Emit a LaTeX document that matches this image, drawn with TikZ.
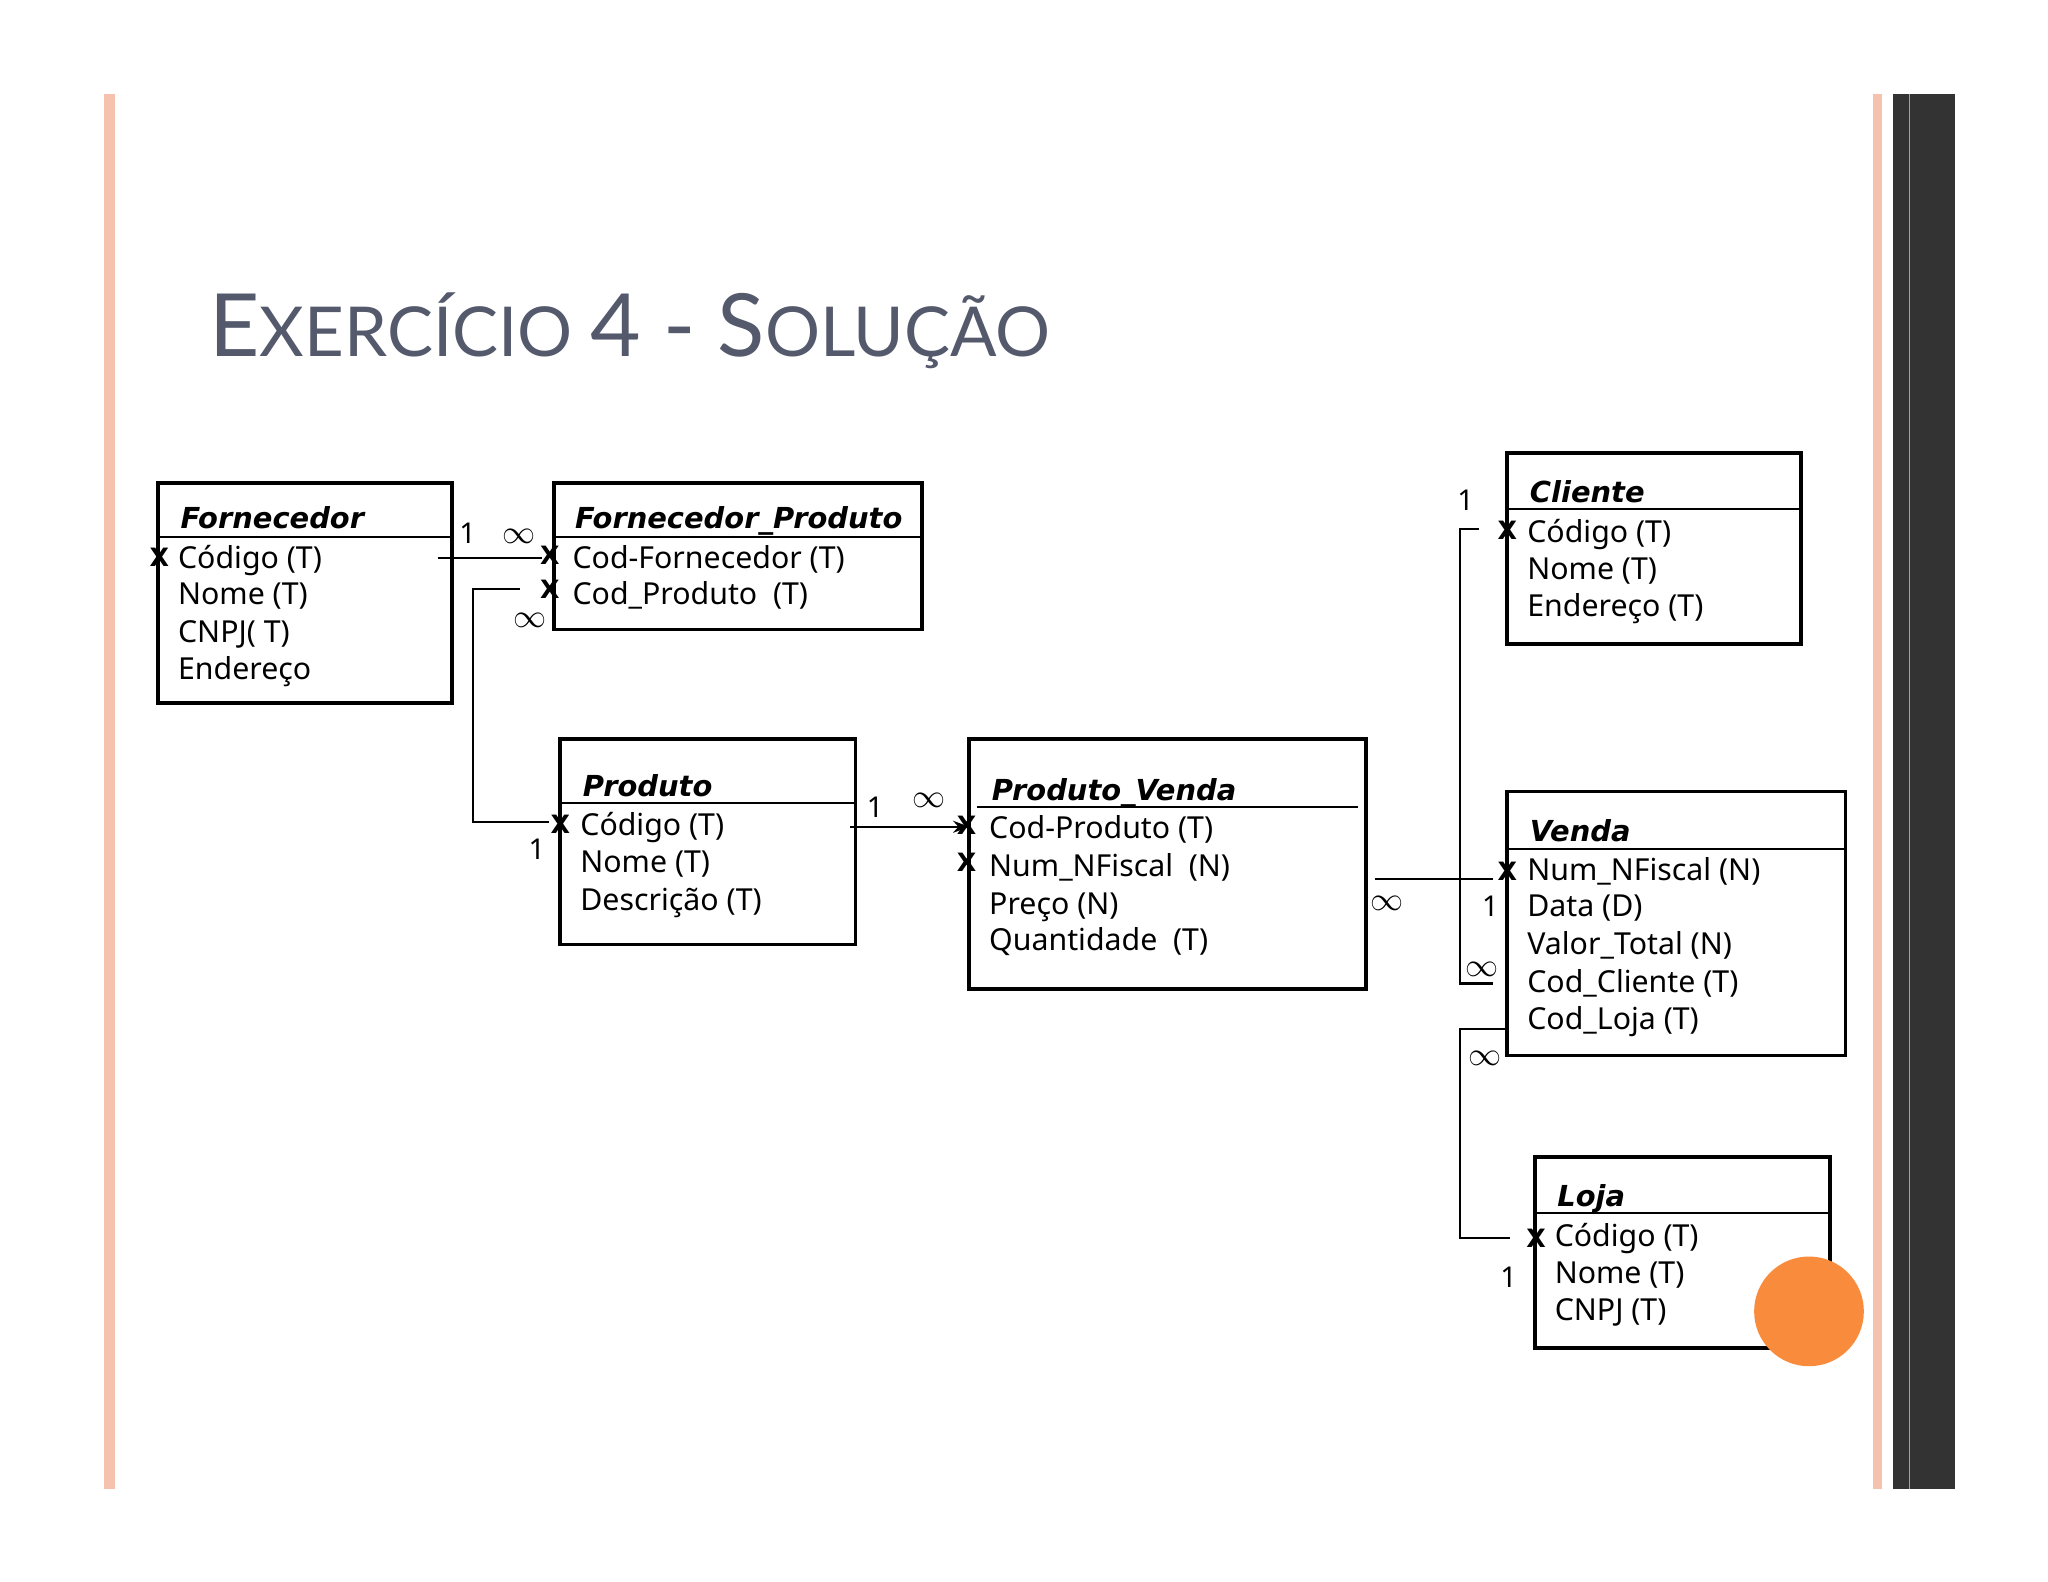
\documentclass[tikz,border=0pt]{standalone}
\usepackage{fontspec}
\setmainfont{Noto Sans}
\newfontfamily\hdfont{DejaVu Sans}
\newfontfamily\ttlfont{Lato}
\usetikzlibrary{arrows.meta}
\definecolor{salmon}{HTML}{F6C2AE}
\definecolor{ttl}{HTML}{545A6C}
\definecolor{dot}{HTML}{F98C3C}
\begin{document}
\begin{tikzpicture}[x=0.02cm,y=-0.02cm,
  tbl/.style={draw,line width=1.6pt},
  hdr/.style={anchor=base west,inner sep=0,font=\hdfont\bfseries\itshape\fontsize{12.6}{13}\selectfont},
  row/.style={anchor=base west,inner sep=0,font=\fontsize{13.2}{13}\selectfont},
  lbl/.style={inner sep=0,font=\fontsize{12.5}{12}\selectfont},
  inf/.style={inner sep=0,font=\fontsize{15}{15}\selectfont},
  xm/.style={inner sep=0,font=\hdfont\bfseries\fontsize{11}{11}\selectfont},
  cn/.style={line width=0.9pt}]
\useasboundingbox (0,0) rectangle (1568,1211);
\fill[white] (0,0) rectangle (1568,1211);
% side bars
\fill[salmon] (80,72) rectangle (88,1140);
\fill[salmon] (1434,72) rectangle (1441,1140);
\fill[black!80] (1449,72) rectangle (1497,1140);
\draw[dot,line width=0.8pt] (1462,72) -- (1462,1140);
% title
\node[anchor=base west,inner sep=0,text=ttl,font=\ttlfont] (title) at (160,273)
 {\fontsize{38}{38}\selectfont E\fontsize{30}{30}\selectfont XERCÍCIO \fontsize{38}{38}\selectfont 4 - S\fontsize{30}{30}\selectfont OLUÇÃO};
% Fornecedor
\draw[tbl] (121,370) rectangle (346,538); \draw[line width=0.8pt] (121,411) -- (346,411);
\node[hdr] (h1) at (138,405) {Fornecedor};
\node[row] (f1) at (136,435) {Código (T)};
\node[row] (f2) at (136,463) {Nome (T)};
\node[row] (f3) at (136,492) {CNPJ( T)};
\node[row] (f4) at (136,520) {Endereço};
% Fornecedor_Produto
\draw[tbl] (424,370) rectangle (706,482); \draw[line width=0.8pt] (424,411) -- (706,411);
\node[hdr] (h2) at (440,405) {Fornecedor\_Produto};
\node[row] (fp1) at (438,435) {Cod-Fornecedor (T)};
\node[row] (fp2) at (438,463) {Cod\_Produto\ \ (T)};
% Produto
\draw[tbl] (429,566) rectangle (655,723); \draw[line width=0.8pt] (429,615) -- (655,615);
\node[hdr] (h3) at (446,610) {Produto};
\node[row] (p1) at (444,640) {Código (T)};
\node[row] (p2) at (444,668) {Nome (T)};
\node[row] (p3) at (444,697) {Descrição (T)};
% Produto_Venda
\draw[tbl] (742,566) rectangle (1046,757); \draw[line width=0.8pt] (748,618) -- (1040,618);
\node[hdr] (h4) at (759,613) {Produto\_Venda};
\node[row] (pv1) at (757,642) {Cod-Produto (T)};
\node[row] (pv2) at (757,671) {Num\_NFiscal\ \ (N)};
\node[row] (pv3) at (757,700) {Preço (N)};
\node[row] (pv4) at (757,728) {Quantidade\ \ (T)};
% Cliente
\draw[tbl] (1154,347) rectangle (1379,493); \draw[line width=0.8pt] (1154,390) -- (1379,390);
\node[hdr] (h5) at (1171,385) {Cliente};
\node[row] (c1) at (1169,415) {Código (T)};
\node[row] (c2) at (1169,444) {Nome (T)};
\node[row] (c3) at (1169,472) {Endereço (T)};
% Venda
\draw[tbl] (1154,606) rectangle (1413,808); \draw[line width=0.8pt] (1154,650) -- (1413,650);
\node[hdr] (h6) at (1171,644) {Venda};
\node[row] (v1) at (1169,674) {Num\_NFiscal (N)};
\node[row] (v2) at (1169,702) {Data (D)};
\node[row] (v3) at (1169,731) {Valor\_Total (N)};
\node[row] (v4) at (1169,760) {Cod\_Cliente (T)};
\node[row] (v5) at (1169,788) {Cod\_Loja (T)};
% Loja
\draw[tbl] (1175,886) rectangle (1401,1032); \draw[line width=0.8pt] (1175,929) -- (1401,929);
\node[hdr] (h7) at (1192,924) {Loja};
\node[row] (l1) at (1190,954) {Código (T)};
\node[row] (l2) at (1190,983) {Nome (T)};
\node[row] (l3) at (1190,1011) {CNPJ (T)};
\fill[dot] (1385,1004) circle (42);
% key marks
\node[xm] (k1) at (122,427) {X};
\node[xm] (k2) at (421,425) {X};
\node[xm] (k3) at (421,451) {X};
\node[xm] (k4) at (429,631) {X};
\node[xm] (k5) at (740,632) {X};
\node[xm] (k6) at (740,660) {X};
\node[xm] (k7) at (1154,667) {X};
\node[xm] (k8) at (1154,406) {X};
\node[xm] (k9) at (1176,948) {X};
% connector endpoints
\coordinate (a1) at (335,427); \coordinate (a2) at (415,427);
\coordinate (b1) at (398,451); \coordinate (b2) at (420,629);
\coordinate (c1e) at (651,633); \coordinate (c2e) at (742,633);
\coordinate (d1) at (1053,673); \coordinate (d2) at (1143,673);
\coordinate (e1) at (1132,405); \coordinate (e2) at (1143,753);
\coordinate (g1) at (1154,788); \coordinate (g2) at (1156,948);
\draw[cn] (a1) -- (a2);
\draw[cn] (b1) -| (362,629) -- (b2);
\draw[cn,-{Stealth[length=7pt]}] (c1e) -- (c2e);
\draw[cn] (d1) -- (d2);
\draw[cn] (e1) -| (1118,753) -- (e2);
\draw[cn] (g1) -| (1118,948) -- (g2);
% cardinalities
\node[lbl] (n1) at (358,408) {1};   \node[inf] (i1) at (397,411) {$\infty$};
\node[inf] (i2) at (406,475) {$\infty$}; \node[lbl] (n2) at (411,650) {1};
\node[lbl] (n3) at (670,618) {1};   \node[inf] (i3) at (711,613) {$\infty$};
\node[inf] (i4) at (1062,692) {$\infty$}; \node[lbl] (n4) at (1141,694) {1};
\node[lbl] (n5) at (1122,383) {1};  \node[inf] (i5) at (1135,742) {$\infty$};
\node[inf] (i6) at (1137,810) {$\infty$}; \node[lbl] (n6) at (1155,978) {1};
\end{tikzpicture}
\end{document}
